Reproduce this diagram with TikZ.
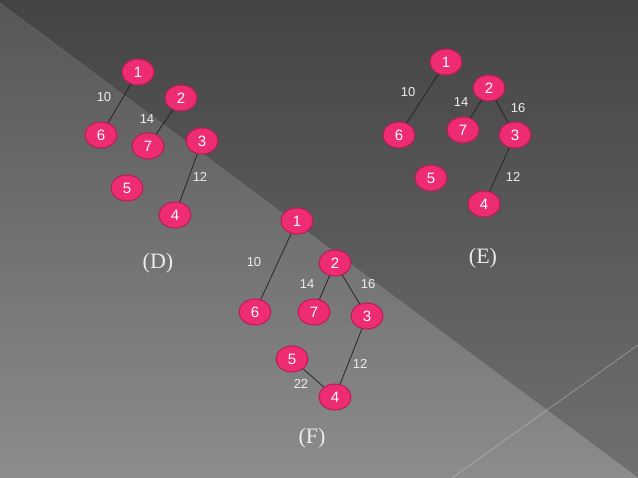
\documentclass[tikz,border=0pt]{standalone}
\usepackage{fontspec}
\setmainfont{Liberation Serif}
\newfontfamily\arialf{Liberation Sans}
\usetikzlibrary{shapes.geometric}
\definecolor{pinkfill}{RGB}{238,44,116}
\definecolor{pinkdraw}{RGB}{185,28,84}
\definecolor{lowtop}{RGB}{86,86,86}
\definecolor{lowbot}{RGB}{140,140,140}
\definecolor{uptop}{RGB}{68,68,68}
\definecolor{upbot}{RGB}{112,112,112}
\definecolor{txtgray}{RGB}{236,236,236}
\tikzset{
  vtx/.style={ellipse, fill=pinkfill, draw=pinkdraw, line width=1pt,
    minimum width=32pt, minimum height=26pt, inner sep=0pt,
    text=white, font=\arialf\fontsize{15}{15}\selectfont},
  wlabel/.style={text=txtgray, font=\arialf\fontsize{13}{13}\selectfont, inner sep=0pt},
  caption/.style={text=txtgray, font=\fontsize{22}{22}\selectfont, inner sep=0pt},
  edge/.style={draw=black!85, line width=0.8pt}
}
\begin{document}
\begin{tikzpicture}[x=1pt,y=-1pt]
\useasboundingbox (0,0) rectangle (638,478);
% background
\shade[top color=lowtop, bottom color=lowbot] (0,0) rectangle (638,478);
\shade[top color=uptop, bottom color=upbot] (0,0) -- (638,0) -- (638,478) -- (0,3) -- cycle;
\draw[white!65!gray, line width=0.5pt, opacity=0.2] (0,3) -- (638,478);
\draw[white!70!gray, line width=0.8pt, opacity=0.4] (638,345) -- (452,478);

% (D)
\node[vtx] (d1) at (138,72) {1};
\node[vtx] (d2) at (181,98) {2};
\node[vtx] (d6) at (101,135) {6};
\node[vtx] (d7) at (148,146) {7};
\node[vtx] (d3) at (202,141) {3};
\node[vtx] (d5) at (127,188) {5};
\node[vtx] (d4) at (175,215) {4};
\draw[edge] (d1) -- (d6);
\draw[edge] (d2) -- (d7);
\draw[edge] (d3) -- (d4);
\node[wlabel] (ld10) at (104,97) {10};
\node[wlabel] (ld14) at (147,119) {14};
\node[wlabel] (ld12) at (200,177) {12};
\node[caption] (cd) at (158,263) {(D)};

% (E)
\node[vtx] (e1) at (446,62) {1};
\node[vtx] (e2) at (489,88) {2};
\node[vtx] (e6) at (399,135) {6};
\node[vtx] (e7) at (463,130) {7};
\node[vtx] (e3) at (515,135) {3};
\node[vtx] (e5) at (431,178) {5};
\node[vtx] (e4) at (484,204) {4};
\draw[edge] (e1) -- (e6);
\draw[edge] (e2) -- (e7);
\draw[edge] (e2) -- (e3);
\draw[edge] (e3) -- (e4);
\node[wlabel] (le10) at (408,92) {10};
\node[wlabel] (le14) at (461,102) {14};
\node[wlabel] (le16) at (518,108) {16};
\node[wlabel] (le12) at (513,177) {12};
\node[caption] (ce) at (483,258) {(E)};

% (F)
\node[vtx] (f1) at (297,221) {1};
\node[vtx] (f2) at (335,263) {2};
\node[vtx] (f6) at (255,312) {6};
\node[vtx] (f7) at (314,312) {7};
\node[vtx] (f3) at (367,316) {3};
\node[vtx] (f5) at (292,359) {5};
\node[vtx] (f4) at (335,397) {4};
\draw[edge] (f1) -- (f6);
\draw[edge] (f2) -- (f7);
\draw[edge] (f2) -- (f3);
\draw[edge] (f3) -- (f4);
\draw[edge] (f5) -- (f4);
\node[wlabel] (lf10) at (254,262) {10};
\node[wlabel] (lf14) at (307,284) {14};
\node[wlabel] (lf16) at (368,284) {16};
\node[wlabel] (lf12) at (360,364) {12};
\node[wlabel] (lf22) at (301,384) {22};
\node[caption] (cf) at (312,438) {(F)};
\end{tikzpicture}
\end{document}
